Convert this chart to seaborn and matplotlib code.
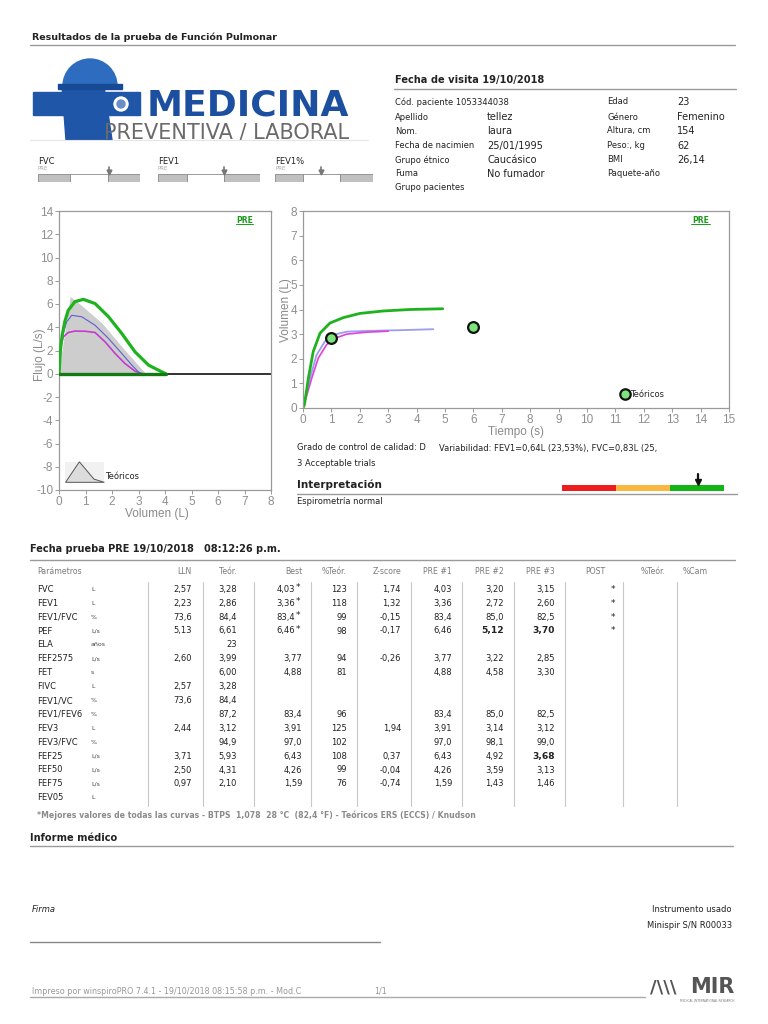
import numpy as np
import pandas as pd
import seaborn as sns
import matplotlib.pyplot as plt
from matplotlib.lines import Line2D
from matplotlib.patches import Rectangle, Polygon, Wedge, Circle

# ---------------- data ----------------
# flow-volume curves (volume L, flow L/s)
fv_green_vol = [0.0, 0.05, 0.12, 0.22, 0.35, 0.6, 0.92, 1.36, 1.87, 2.37, 2.87, 3.38, 3.88, 4.03]
fv_green_flow = [0.0, 2.0, 3.3, 4.5, 5.46, 6.2, 6.4, 6.04, 4.9, 3.46, 1.88, 0.74, 0.16, 0.0]
fv_blue_vol = [0.0, 0.04, 0.1, 0.29, 0.48, 0.86, 1.36, 1.87, 2.37, 2.75, 3.06]
fv_blue_flow = [0.0, 1.5, 3.0, 4.46, 5.03, 4.9, 4.17, 3.03, 1.74, 0.74, 0.0]
fv_mag_vol = [0.0, 0.04, 0.08, 0.16, 0.35, 0.6, 0.98, 1.36, 1.74, 2.12, 2.49, 2.87, 3.15]
fv_mag_flow = [0.0, 1.2, 2.46, 3.17, 3.55, 3.67, 3.66, 3.55, 2.74, 1.74, 0.88, 0.22, 0.0]
pred_fv_vol = [0.0, 0.44, 0.82, 1.64, 2.46, 3.28]
pred_fv_flow = [0.0, 6.61, 5.93, 4.31, 2.10, 0.0]

# volume-time curves (time s, volume L)
vt_green_t = [0, 0.05, 0.19, 0.36, 0.6, 0.95, 1.42, 2.0, 2.83, 3.77, 4.92]
vt_green_v = [0, 0.13, 1.22, 2.29, 3.04, 3.45, 3.67, 3.84, 3.94, 4.0, 4.03]
vt_blue_t = [0, 0.25, 0.48, 0.77, 1.07, 1.54, 2.25, 3.43, 4.59]
vt_blue_v = [0, 1.22, 2.16, 2.7, 2.97, 3.1, 3.13, 3.16, 3.2]
vt_mag_t = [0, 0.31, 0.54, 0.83, 1.07, 1.54, 2.25, 3.0]
vt_mag_v = [0, 1.22, 2.03, 2.57, 2.81, 3.0, 3.08, 3.12]
pred_vt_t = [1.0, 6.0]
pred_vt_v = [2.86, 3.28]

# small indicator bars (fractions of bar length)
ind_names = ['FVC', 'FEV1', 'FEV1%']
ind_white_lo = [0.316, 0.283, 0.282]
ind_white_hi = [0.69, 0.651, 0.661]
ind_arrow = [0.70, 0.651, 0.468]
interp_colors = ['#ee1c1c', '#f9b940', '#12b512']
interp_arrow = 0.837

# patient data
info_left_labels = ['Apellido', 'Nom.', 'Fecha de nacimien', 'Grupo étnico', 'Fuma']
info_left_values = ['tellez', 'laura', '25/01/1995', 'Caucásico', 'No fumador']
info_right_labels = ['Edad', 'Género', 'Altura, cm', 'Peso:, kg', 'BMI', 'Paquete-año']
info_right_values = ['23', 'Femenino', '154', '62', '26,14', '']

# results table
params = ['FVC', 'FEV1', 'FEV1/FVC', 'PEF', 'ELA', 'FEF2575', 'FET', 'FIVC', 'FEV1/VC',
          'FEV1/FEV6', 'FEV3', 'FEV3/FVC', 'FEF25', 'FEF50', 'FEF75', 'FEV05']
units = ['L', 'L', '%', 'L/s', 'años', 'L/s', 's', 'L', '%', '%', 'L', '%', 'L/s', 'L/s', 'L/s', 'L']
col_lln = ['2,57', '2,23', '73,6', '5,13', '', '2,60', '', '2,57', '73,6', '', '2,44', '', '3,71', '2,50', '0,97', '']
col_teor = ['3,28', '2,86', '84,4', '6,61', '23', '3,99', '6,00', '3,28', '84,4', '87,2', '3,12', '94,9', '5,93', '4,31', '2,10', '']
col_best = ['4,03*', '3,36*', '83,4*', '6,46*', '', '3,77', '4,88', '', '', '83,4', '3,91', '97,0', '6,43', '4,26', '1,59', '']
col_pct = ['123', '118', '99', '98', '', '94', '81', '', '', '96', '125', '102', '108', '99', '76', '']
col_z = ['1,74', '1,32', '-0,15', '-0,17', '', '-0,26', '', '', '', '', '1,94', '', '0,37', '-0,04', '-0,74', '']
col_pre1 = ['4,03', '3,36', '83,4', '6,46', '', '3,77', '4,88', '', '', '83,4', '3,91', '97,0', '6,43', '4,26', '1,59', '']
col_pre2 = ['3,20', '2,72', '85,0', '5,12', '', '3,22', '4,58', '', '', '85,0', '3,14', '98,1', '4,92', '3,59', '1,43', '']
col_pre3 = ['3,15', '2,60', '82,5', '3,70', '', '2,85', '3,30', '', '', '82,5', '3,12', '99,0', '3,68', '3,13', '1,46', '']
col_post = ['*', '*', '*', '*'] + [''] * 12
bold_cells = {(3, 'PRE #2'), (3, 'PRE #3'), (12, 'PRE #3')}

# ---------------- page set-up ----------------
sns.set_style('white')
plt.rcParams['font.family'] = ['DejaVu Sans']
plt.rcParams['axes.unicode_minus'] = False

W, H = 768, 1024
fig = plt.figure(figsize=(W / 100, H / 100), dpi=100)


def fx(x):
    return x / W


def fy(y):
    return 1 - y / H


def put(x, y, s, size=6.5, weight='normal', color='#222222', ha='left', style='normal', va='center'):
    fig.text(fx(x), fy(y), s, fontsize=size, fontweight=weight, color=color,
             ha=ha, va=va, style=style)


def hline(x0, x1, y, color='#9a9a9a', lw=1.0):
    fig.add_artist(Line2D([fx(x0), fx(x1)], [fy(y), fy(y)], color=color, lw=lw,
                          transform=fig.transFigure))


def vline(x, y0, y1, color='#c8c8c8', lw=0.8):
    fig.add_artist(Line2D([fx(x), fx(x)], [fy(y0), fy(y1)], color=color, lw=lw,
                          transform=fig.transFigure))


def px_axes(x0, x1, y0, y1):
    return fig.add_axes([fx(x0), fy(y1), (x1 - x0) / W, (y1 - y0) / H])


# ---------------- header ----------------
put(32, 37, 'Resultados de la prueba de Función Pulmonar', size=6.8, weight='bold')
hline(30, 735, 45)

# logo
lg = px_axes(30, 370, 55, 140)
lg.set_xlim(30, 370)
lg.set_ylim(140, 55)
lg.axis('off')
blue = '#1f56a8'
lg.add_patch(Rectangle((33, 92), 107, 23, color=blue))
lg.add_patch(Polygon([(62, 86), (104, 86), (112, 140), (66, 140)], color=blue))
lg.add_patch(Wedge((90, 86), 27, 180, 360, color='#2e6cc0'))
lg.add_patch(Rectangle((58, 84), 64, 5, color='#174a94'))
lg.add_patch(Circle((121, 104), 7, color='white'))
lg.add_patch(Circle((121, 104), 4, color='#6a8fc8'))
lg.text(147, 115, 'MEDICINA', fontsize=26, fontweight='heavy', color='#1d4fa0', va='baseline', ha='left')
lg.text(104, 138, 'PREVENTIVA / LABORAL', fontsize=15, color='#6a6a6a', va='baseline', ha='left')
hline(30, 368, 140, color='#e6e6e6', lw=0.8)

# indicator bars
ind_x = [(38, 140), (158, 260), (275, 373)]
for name, (x0, x1), lo, hi, arr in zip(ind_names, ind_x, ind_white_lo, ind_white_hi, ind_arrow):
    put(x0, 161, name, size=6)
    put(x0, 169, 'PRE', size=4, color='#aaaaaa')
    a = px_axes(x0, x1, 174, 182)
    a.barh(0, lo, left=0, height=1, color='#c0c0c0', edgecolor='#8a8a8a', lw=0.6)
    a.barh(0, hi - lo, left=lo, height=1, color='white', edgecolor='#8a8a8a', lw=0.6)
    a.barh(0, 1 - hi, left=hi, height=1, color='#c0c0c0', edgecolor='#8a8a8a', lw=0.6)
    a.plot([arr, arr], [0.6, 1.4], color='#777777', lw=1.2, clip_on=False)
    a.plot(arr, 0.75, marker='v', color='#777777', ms=3.5, clip_on=False)
    a.set_xlim(0, 1)
    a.set_ylim(-0.5, 0.5)
    a.axis('off')

# patient info
put(395, 80, 'Fecha de visita 19/10/2018', size=7.1, weight='bold')
hline(394, 736, 89)
put(395, 102, 'Cód. paciente 1053344038', size=6)
row_y = [117, 131, 146, 160, 174]
for yy, lab, val in zip(row_y, info_left_labels, info_left_values):
    put(395, yy, lab, size=6)
    put(487, yy, val, size=7)
put(395, 188, 'Grupo pacientes', size=6)
for yy, lab, val in zip([102] + row_y, info_right_labels, info_right_values):
    put(607, yy, lab, size=6)
    put(677, yy, val, size=7)

# ---------------- flow-volume chart ----------------
tick_font = 'Liberation Sans'
ax1 = px_axes(59, 271, 211, 490)
ax1.fill(pred_fv_vol, pred_fv_flow, color='#cdcdcd', lw=0, zorder=1)
ax1.axhline(0, color='#222222', lw=1.3, zorder=2)
sns.lineplot(x=fv_mag_vol, y=fv_mag_flow, color='#c43bd0', lw=1.2, sort=False, estimator=None, ax=ax1, zorder=3)
sns.lineplot(x=fv_blue_vol, y=fv_blue_flow, color='#5d5fd0', lw=0.8, sort=False, estimator=None, ax=ax1, zorder=3)
sns.lineplot(x=fv_green_vol, y=fv_green_flow, color='#1fb21f', lw=2.3, sort=False, estimator=None, ax=ax1, zorder=4)
ax1.plot([0, max(fv_green_vol)], [0, 0], color='#137a13', lw=2.4, zorder=4)
ax1.set_xlim(0, 8)
ax1.set_ylim(-10, 14)
ax1.set_xticks(range(0, 9))
ax1.set_yticks(range(-10, 15, 2))
# legend glyph
ax1.add_patch(Rectangle((0.029, 0.0275), 0.185, 0.074, transform=ax1.transAxes, color='#f1f1f1', lw=0))
ax1.add_patch(Polygon([(0.031, 0.0275), (0.096, 0.101), (0.165, 0.039), (0.214, 0.0275)],
                      closed=True, transform=ax1.transAxes, facecolor='#dcdcdc', edgecolor='#555555', lw=0.7))
ax1.text(0.218, 0.05, 'Teóricos', transform=ax1.transAxes, fontsize=6, color='#222222', va='center')
ax1.text(0.875, 0.967, 'PRE', transform=ax1.transAxes, fontsize=5.5, fontweight='bold', color='#1a9a1a', ha='center', va='center')
ax1.plot([0.835, 0.915], [0.955, 0.955], transform=ax1.transAxes, color='#1a9a1a', lw=0.7)
ax1.set_xlabel('Volumen (L)', fontsize=8.5, color='#8a8a8a', family=tick_font)
ax1.xaxis.set_label_coords(0.46, -0.064)
ax1.set_ylabel('Flujo (L/s)', fontsize=8.5, color='#8a8a8a', family=tick_font)
ax1.yaxis.set_label_coords(-0.062, 0.484)

# ---------------- volume-time chart ----------------
ax2 = px_axes(303, 729, 211, 408)
sns.lineplot(x=vt_blue_t, y=vt_blue_v, color='#9c9cf0', lw=1.3, sort=False, estimator=None, ax=ax2)
sns.lineplot(x=vt_mag_t, y=vt_mag_v, color='#e040e0', lw=1.2, sort=False, estimator=None, ax=ax2)
sns.lineplot(x=vt_green_t, y=vt_green_v, color='#1fb21f', lw=2.0, sort=False, estimator=None, ax=ax2)
sns.scatterplot(x=pred_vt_t, y=pred_vt_v, s=60, color='#7de47d', edgecolor='#111111', linewidth=1.6, ax=ax2, zorder=5)
ax2.set_xlim(0, 15)
ax2.set_ylim(0, 8)
ax2.set_xticks(range(0, 16))
ax2.set_yticks(range(0, 9))
ax2.legend(handles=[Line2D([], [], ls='', marker='o', ms=7.5, mfc='#7de47d', mec='#111111', mew=1.6)],
           labels=['Teóricos'], loc='center left', bbox_to_anchor=(0.728, 0.07), frameon=False,
           handletextpad=0.1, handlelength=1.0, fontsize=6)
ax2.text(0.933, 0.954, 'PRE', transform=ax2.transAxes, fontsize=5.5, fontweight='bold', color='#1a9a1a', ha='center', va='center')
ax2.plot([0.911, 0.955], [0.935, 0.935], transform=ax2.transAxes, color='#1a9a1a', lw=0.7)
ax2.set_xlabel('Tiempo (s)', fontsize=8.5, color='#8a8a8a', family=tick_font)
ax2.xaxis.set_label_coords(0.499, -0.09)
ax2.set_ylabel('Volumen (L)', fontsize=8.5, color='#8a8a8a', family=tick_font)
ax2.yaxis.set_label_coords(-0.026, 0.498)

for ax in (ax1, ax2):
    for sp in ax.spines.values():
        sp.set_color('#9a9a9a')
        sp.set_linewidth(0.9)
    ax.tick_params(direction='out', length=3, width=0.7, color='#9a9a9a', labelcolor='#8f8f8f',
                   labelsize=8.5, pad=1.2, left=True, bottom=True)
    for lab in ax.get_xticklabels() + ax.get_yticklabels():
        lab.set_family(tick_font)

# quality / interpretation
put(297, 448, 'Grado de control de calidad: D', size=6)
put(439, 448, 'Variabilidad: FEV1=0,64L (23,53%), FVC=0,83L (25,', size=6)
put(297, 463, '3 Acceptable trials', size=6)
put(297, 485, 'Interpretación', size=7.5, weight='bold')
hline(297, 737, 494)
put(297, 502, 'Espirometría normal', size=6)
ib = px_axes(562, 724, 485, 491)
for i, c in enumerate(interp_colors):
    ib.barh(0, 1 / 3, left=i / 3, height=1, color=c, lw=0)
ib.plot([interp_arrow, interp_arrow], [1.2, 2.4], color='#111111', lw=1.6, clip_on=False)
ib.plot(interp_arrow, 1.0, marker='v', color='#111111', ms=4.5, clip_on=False)
ib.set_xlim(0, 1)
ib.set_ylim(-0.5, 0.5)
ib.axis('off')

# ---------------- results table ----------------
put(30, 549, 'Fecha prueba PRE 19/10/2018   08:12:26 p.m.', size=7.0, weight='bold')
hline(30, 735, 560)

table = pd.DataFrame({'LLN': col_lln, 'Teór.': col_teor, 'Best': col_best, '%Teór.': col_pct,
                      'Z-score': col_z, 'PRE #1': col_pre1, 'PRE #2': col_pre2, 'PRE #3': col_pre3})
col_right = {'LLN': 192, 'Teór.': 237, 'Best': 302, '%Teór.': 347, 'Z-score': 401,
             'PRE #1': 452, 'PRE #2': 504, 'PRE #3': 555}
head_col = '#7a7a7a'
put(37, 572, 'Parámetros', size=5.6, color=head_col)
for c, xr in col_right.items():
    put(xr, 572, c, size=5.6, color=head_col, ha='right')
put(595, 572, 'POST', size=5.6, color=head_col, ha='center')
put(666, 572, '%Teór.', size=5.6, color=head_col, ha='right')
put(683, 572, '%Cam', size=5.6, color=head_col)

for x in [148, 203, 254, 311, 357, 411, 462, 514, 565, 623, 677]:
    vline(x, 582, 806)

for i, (p, u) in enumerate(zip(params, units)):
    yy = 589.3 + 13.9 * i
    put(37, yy, p, size=6)
    put(91, yy, u, size=4.5, color='#444444')
    for c, xr in col_right.items():
        val = table.loc[i, c]
        if not val:
            continue
        w = 'bold' if (i, c) in bold_cells else 'normal'
        sz = 6.6 if w == 'bold' else 6
        if val.endswith('*'):
            put(xr - 7, yy, val[:-1], size=sz, ha='right')
            put(xr - 6, yy - 1.5, '*', size=6.5, ha='left')
        else:
            put(xr, yy, val, size=sz, weight=w, ha='right')
    if col_post[i]:
        put(613, yy, col_post[i], size=6.5, ha='center')

put(37, 815, '*Mejores valores de todas las curvas - BTPS  1,078  28 °C  (82,4 °F) - Teóricos ERS (ECCS) / Knudson',
    size=5.6, color='#8a8a8a', weight='bold')

# ---------------- footer ----------------
put(30, 838, 'Informe médico', size=7.1, weight='bold')
hline(30, 733, 846)
put(32, 910, 'Firma', size=6, style='italic')
put(732, 910, 'Instrumento usado', size=6, ha='right')
put(732, 925, 'Minispir S/N R00033', size=6, ha='right')
hline(30, 380, 942, color='#888888')
put(32, 991, 'Impreso por winspiroPRO 7.4.1 - 19/10/2018 08:15:58 p.m. - Mod.C', size=5.8, color='#999999')
put(374, 991, '1/1', size=5.8, color='#999999')
hline(30, 645, 997, color='#aaaaaa')
put(650, 987, '/\\\\\\', size=13, weight='bold', color='#555555')
put(735, 987, 'MIR', size=15, weight='heavy', color='#555555', ha='right')
put(735, 1001, 'MEDICAL INTERNATIONAL RESEARCH', size=2.2, color='#777777', ha='right')

fig.savefig('out.png', dpi=100)
